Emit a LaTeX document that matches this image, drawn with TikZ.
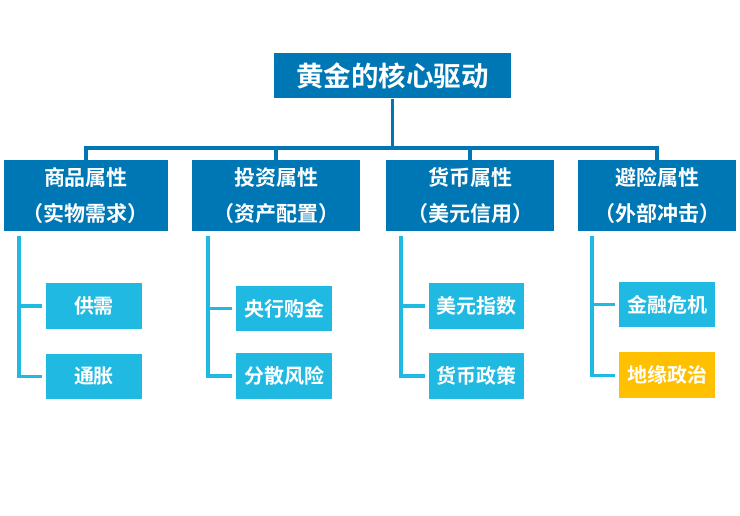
\documentclass[tikz,border=0pt]{standalone}
\usepackage{fontspec}
\setmainfont{Noto Sans CJK SC}[BoldFont={Noto Sans CJK SC Bold}]
\usetikzlibrary{calc}
\definecolor{dkblue}{HTML}{0077B5}
\definecolor{ltblue}{HTML}{1FB9E1}
\definecolor{gold}{HTML}{FFC000}
\tikzset{
  topbox/.style={fill=dkblue, text=white, font=\bfseries\fontsize{27.5}{32}\selectfont, inner sep=0pt, minimum width=237pt, minimum height=45.5pt},
  catbox/.style={fill=dkblue, text=white, font=\bfseries\fontsize{21}{36}\selectfont, inner sep=0pt, minimum height=71.5pt, align=center},
  leafbox/.style={fill=ltblue, text=white, font=\bfseries\fontsize{20}{24}\selectfont, inner sep=0pt, minimum width=96pt, minimum height=45.5pt},
  hotbox/.style={leafbox, fill=gold},
  dkline/.style={draw=dkblue, line width=3.6pt},
  ltline/.style={draw=ltblue, line width=3.4pt}
}
\begin{document}
\begin{tikzpicture}[x=1pt,y=1pt]
\useasboundingbox (0,0) rectangle (740,-516);
\node[topbox] (top) at (392.5,-75.75) {黄金的核心驱动};
\node[catbox, minimum width=164pt] (c1) at (86,-195.75) {商品属性\\（实物需求）};
\node[catbox, minimum width=168pt] (c2) at (276,-195.75) {投资属性\\（资产配置）};
\node[catbox, minimum width=168pt] (c3) at (470,-195.75) {货币属性\\（美元信用）};
\node[catbox, minimum width=158pt] (c4) at (657,-195.75) {避险属性\\（外部冲击）};
\coordinate (hub) at (392.5,-148);
\draw[dkline] (top.south) -- (hub);
\foreach \c in {c1,c2,c3,c4} { \draw[dkline] (\c.north) |- (hub); }

\node[leafbox] (l11) at (94,-306) {供需};
\node[leafbox] (l12) at (94,-376.3) {通胀};
\node[leafbox] (l21) at (284,-308.7) {央行购金};
\node[leafbox] (l22) at (284,-375.8) {分散风险};
\node[leafbox, minimum width=95pt] (l31) at (476.3,-306) {美元指数};
\node[leafbox, minimum width=95pt] (l32) at (476.3,-375.8) {货币政策};
\node[leafbox] (l41) at (667,-304.7) {金融危机};
\node[hotbox] (l42) at (667,-375.2) {地缘政治};

\foreach \c/\a/\b/\o in {c1/l11/l12/15, c2/l21/l22/16, c3/l31/l32/15, c4/l41/l42/14} {
  \coordinate (\c v) at ($(\c.south west)+(\o,-4.5)$);
  \draw[ltline] (\c v) |- ($(\b.west)+(-4,0)$);
  \draw[ltline] (\c v |- \a.west) -- ($(\a.west)+(-4,0)$);
}
\end{tikzpicture}
\end{document}
